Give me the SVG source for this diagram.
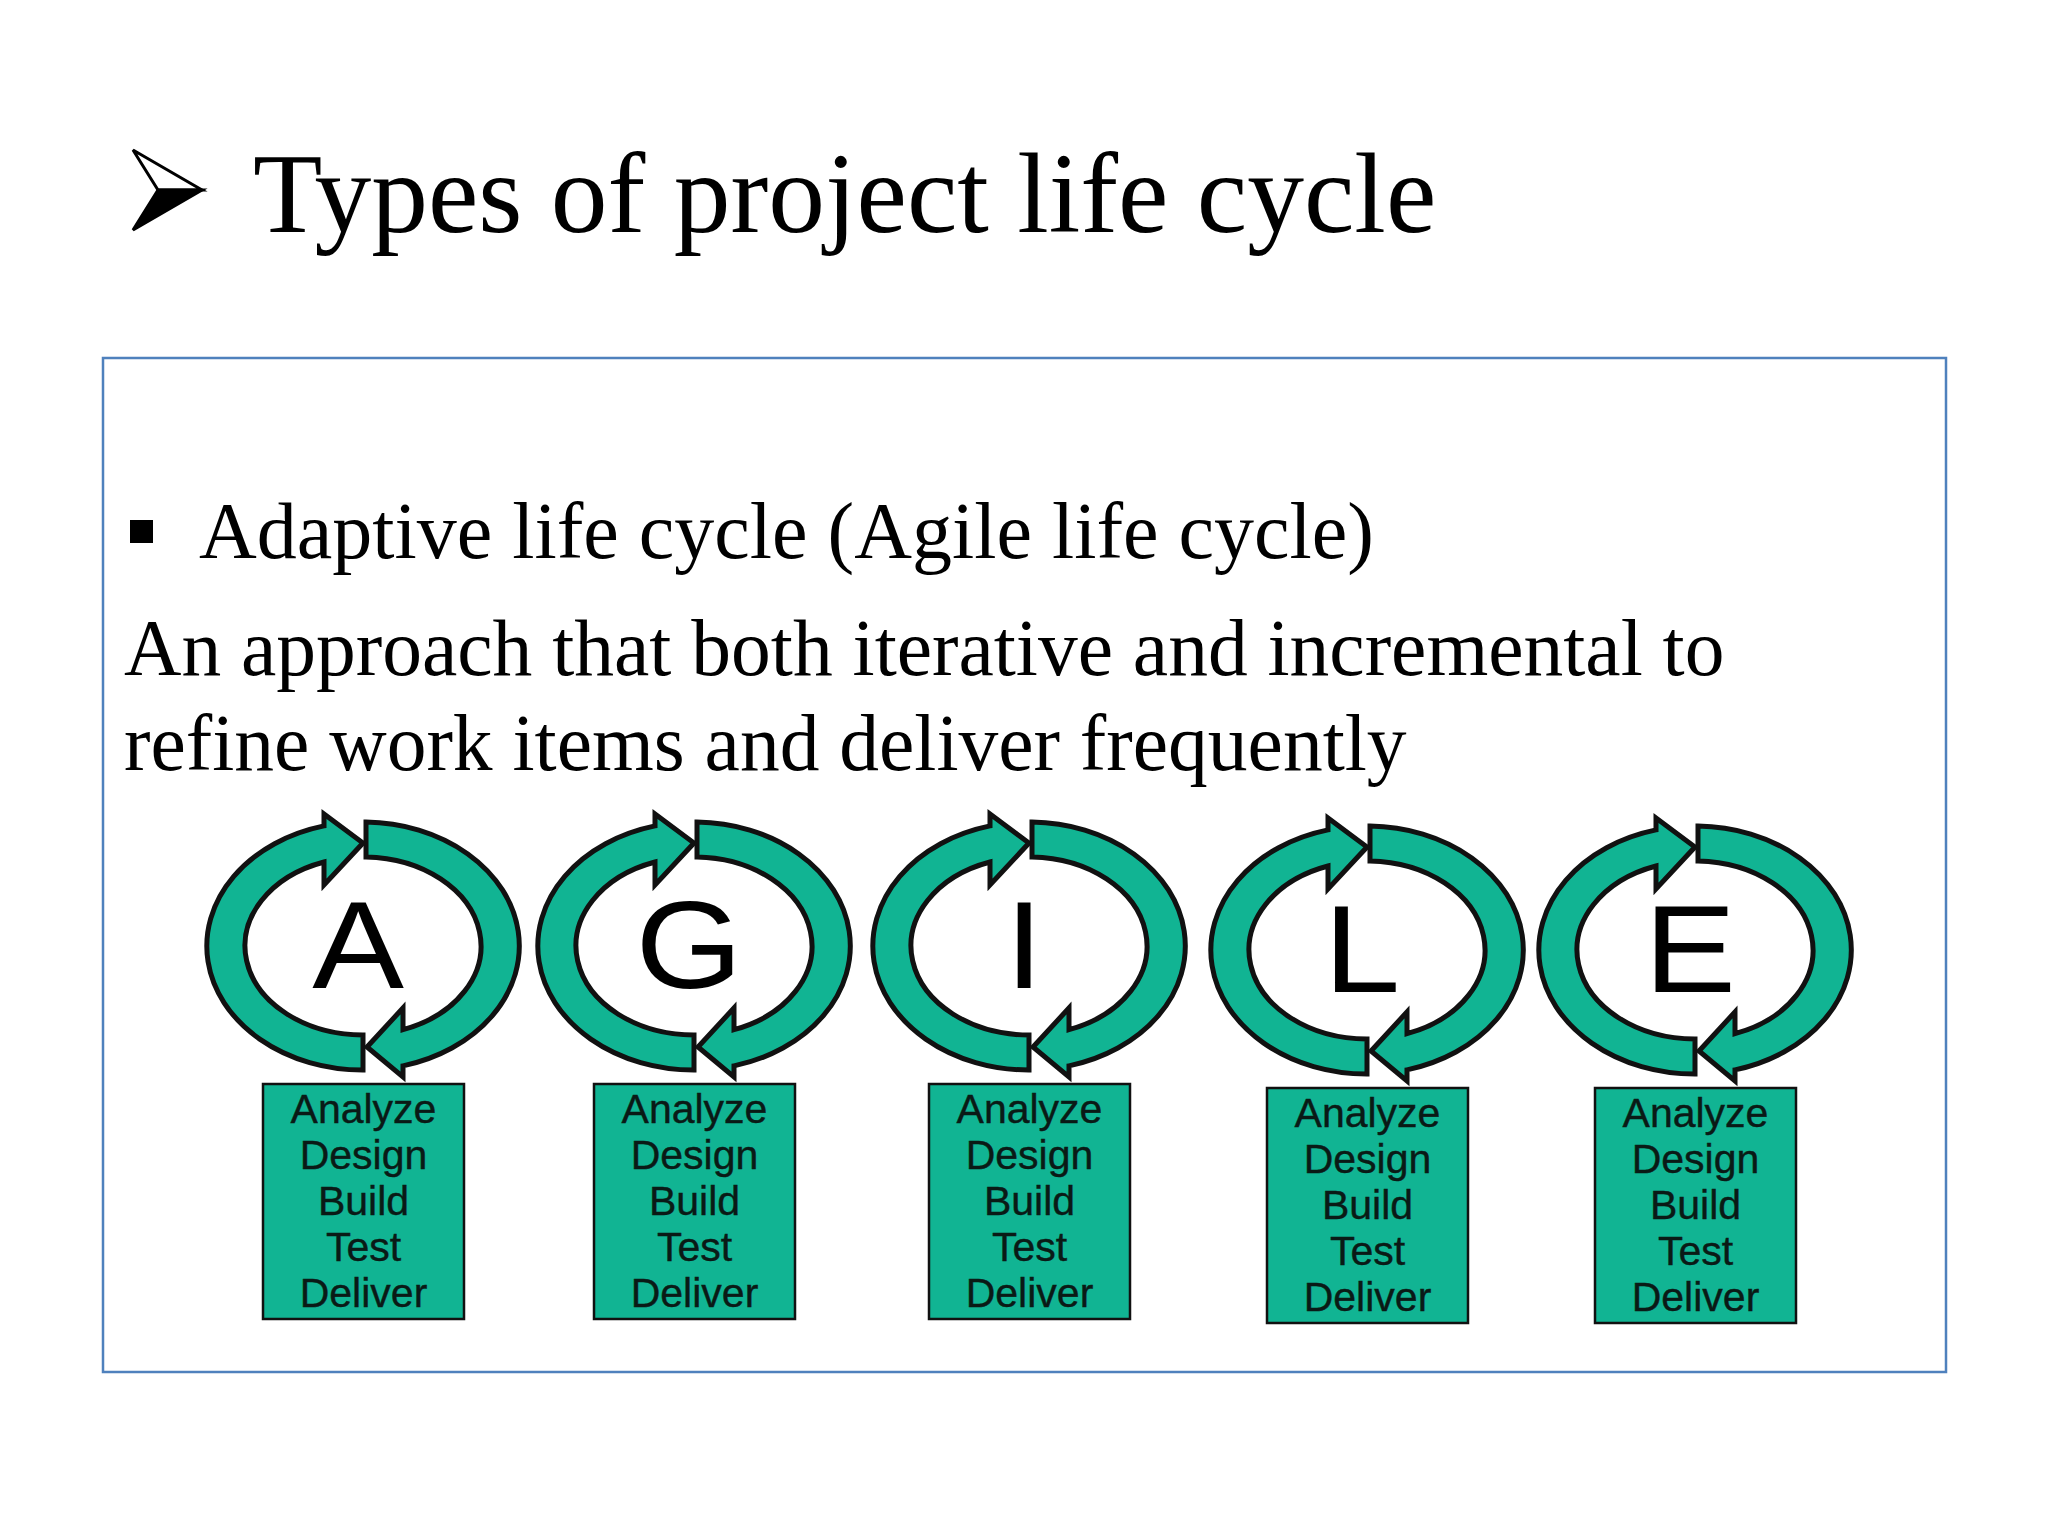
<svg xmlns="http://www.w3.org/2000/svg" xmlns:xlink="http://www.w3.org/1999/xlink" width="2048" height="1536" viewBox="0 0 2048 1536">
<style>
.serif{font-family:"Liberation Serif","Times New Roman",serif;fill:#000}
.arrow{fill:#11B493;stroke:#111;stroke-width:5;stroke-linejoin:miter}
.box{fill:#11B493;stroke:#111;stroke-width:2.5}
.lbl{font-family:"Liberation Sans",Arial,sans-serif;font-size:41px;fill:#0a1a16;stroke:#0a1a16;stroke-width:0.4;text-anchor:middle}
.big{font-family:"Liberation Sans",Arial,sans-serif;font-size:125px;fill:#000;text-anchor:middle}
</style>
<defs>
<g id="cycle">
<path class="arrow" d="M0,124 A156,124 0 0 1 -39,-120.1 L-39,-132 L0,-103 L-39,-61 L-39,-84 A118,89 0 0 0 0,89 Z"/>
<path class="arrow" d="M3,-124 A156,124 0 0 1 40,119.9 L40,131 L4,101 L40,62 L40,83.7 A118,89 0 0 0 3,-89 Z"/>
</g>
<g id="steps">
<rect class="box" x="-100" y="138" width="201" height="235"/>
<text class="lbl" x="0.5" y="177">Analyze</text>
<text class="lbl" x="0.5" y="223">Design</text>
<text class="lbl" x="0.5" y="269">Build</text>
<text class="lbl" x="0.5" y="315">Test</text>
<text class="lbl" x="0.5" y="361">Deliver</text>
</g>
</defs>
<rect width="2048" height="1536" fill="#fff"/>
<g id="title">
<polygon points="133,150 202,190 158,190" fill="#fff" stroke="#000" stroke-width="3" stroke-linejoin="miter"/>
<polygon points="158,190 202,190 133,230" fill="#000" stroke="#000" stroke-width="3"/>
<text class="serif" x="253" y="232" font-size="113.5">Types of project life cycle</text>
</g>
<rect id="frame" x="103" y="358" width="1843" height="1014" fill="none" stroke="#4F81BD" stroke-width="2.5"/>
<g id="body">
<rect x="130" y="520" width="23" height="23" fill="#000"/>
<text class="serif" x="199" y="558" font-size="80">Adaptive life cycle (Agile life cycle)</text>
<text class="serif" x="124" y="675" font-size="79.5">An approach that both iterative and incremental to</text>
<text class="serif" x="124" y="770" font-size="79.5">refine work items and deliver frequently</text>
</g>
<g id="node-A" transform="translate(363,946)">
<use xlink:href="#cycle"/>
<text class="big" transform="translate(-5,42) scale(1.1,1)">A</text>
<use xlink:href="#steps"/>
</g>
<g id="node-G" transform="translate(694,946)">
<use xlink:href="#cycle"/>
<text class="big" transform="translate(-5,42) scale(1.1,1)">G</text>
<use xlink:href="#steps"/>
</g>
<g id="node-I" transform="translate(1029,946)">
<use xlink:href="#cycle"/>
<text class="big" transform="translate(-5,42) scale(1.1,1)">I</text>
<use xlink:href="#steps"/>
</g>
<g id="node-L" transform="translate(1367,950)">
<use xlink:href="#cycle"/>
<text class="big" transform="translate(-5,42) scale(1.1,1)">L</text>
<use xlink:href="#steps"/>
</g>
<g id="node-E" transform="translate(1695,950)">
<use xlink:href="#cycle"/>
<text class="big" transform="translate(-5,42) scale(1.1,1)">E</text>
<use xlink:href="#steps"/>
</g>
<g id="connectors"/>
</svg>
